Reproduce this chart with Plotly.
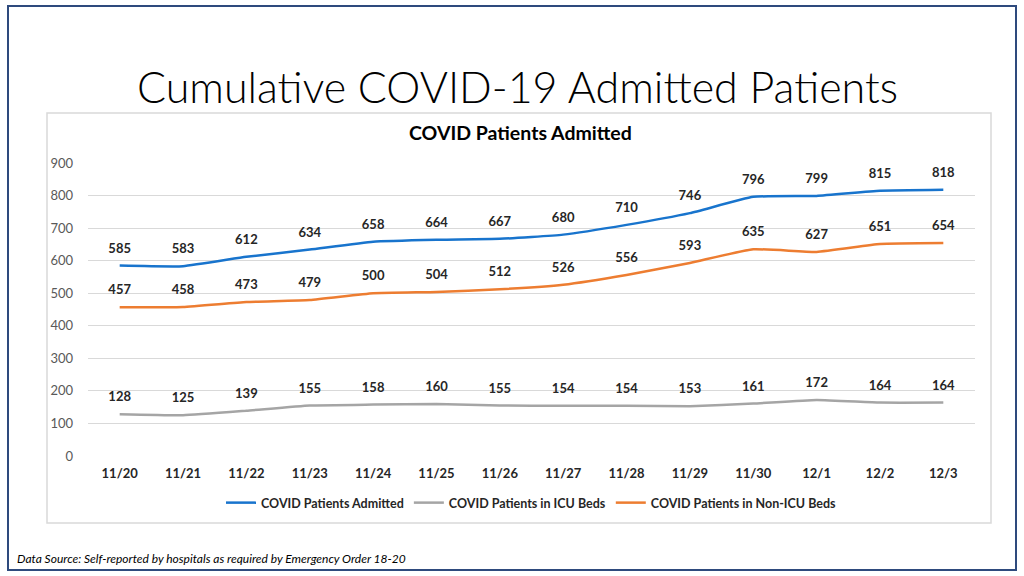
import plotly.graph_objects as go

dates = ["11/20", "11/21", "11/22", "11/23", "11/24", "11/25", "11/26",
         "11/27", "11/28", "11/29", "11/30", "12/1", "12/2", "12/3"]
admitted = [585, 583, 612, 634, 658, 664, 667, 680, 710, 746, 796, 799, 815, 818]
icu = [128, 125, 139, 155, 158, 160, 155, 154, 154, 153, 161, 172, 164, 164]
non_icu = [457, 458, 473, 479, 500, 504, 512, 526, 556, 593, 635, 627, 651, 654]
y_ticks = [0, 100, 200, 300, 400, 500, 600, 700, 800, 900]

W, H = 1024, 576
L, R, T, B = 88, 975, 163, 456  # plot area in pixels


def px(x):
    return (x - L) / (R - L)


def py(y):
    return (B - y) / (B - T)


FONT = "Lato"
fig = go.Figure()
series = [
    ("COVID Patients Admitted", admitted, "#1874CD"),
    ("COVID Patients in ICU Beds", icu, "#A5A5A5"),
    ("COVID Patients in Non-ICU Beds", non_icu, "#ED7D31"),
]
for name, vals, col in series:
    fig.add_trace(go.Scatter(
        x=dates, y=vals, name=name, mode="lines+markers+text",
        line=dict(color=col, width=2.5, shape="spline", smoothing=0.4),
        marker=dict(size=14, color="rgba(0,0,0,0)"),
        text=[str(v) for v in vals], textposition="top center",
        textfont=dict(family=FONT, size=13, color="#262626", weight="bold"),
        cliponaxis=False,
    ))

fig.update_layout(
    width=W, height=H,
    margin=dict(l=L, r=W - R, t=T, b=H - B),
    paper_bgcolor="white", plot_bgcolor="white",
    font=dict(family=FONT, color="#404040"),
    showlegend=True,
    legend=dict(orientation="h", x=0.5, xanchor="center", y=py(503), yanchor="middle",
                font=dict(family=FONT, size=12.5, color="#262626", weight="bold"),
                itemwidth=30, traceorder="normal"),
    xaxis=dict(type="category", range=[-0.5, len(dates) - 0.5], showgrid=False,
               showline=False, ticks="", tickfont=dict(family=FONT, size=13, color="#262626", weight="bold"),
               ticklabelstandoff=8),
    yaxis=dict(range=[0, 900], tickvals=y_ticks, showgrid=True, gridcolor="#D9D9D9",
               gridwidth=1, zeroline=False, showline=False, ticks="",
               tickfont=dict(family=FONT, size=13, color="#595959"), ticklabelstandoff=14),
    shapes=[
        dict(type="rect", xref="paper", yref="paper", x0=px(8), x1=px(1016), y0=py(6), y1=py(570),
             line=dict(color="#2E4A7D", width=2), layer="below"),
        dict(type="rect", xref="paper", yref="paper", x0=px(47), x1=px(991), y0=py(113), y1=py(523),
             line=dict(color="#D9D9D9", width=1.5), layer="below"),
    ],
    annotations=[
        dict(text="Cumulative COVID-19 Admitted Patients", xref="paper", yref="paper",
             x=px(517), y=py(86), xanchor="center", yanchor="middle", showarrow=False,
             font=dict(family=FONT, size=43, color="#000000", weight=300)),
        dict(text="COVID Patients Admitted", xref="paper", yref="paper",
             x=px(520), y=py(132), xanchor="center", yanchor="middle", showarrow=False,
             font=dict(family=FONT, size=19.5, color="#000000", weight="bold")),
        dict(text="<i>Data Source: Self-reported by hospitals as required by Emergency Order 18-20</i>",
             xref="paper", yref="paper", x=px(15), y=py(558), xanchor="left", yanchor="middle",
             showarrow=False, font=dict(family=FONT, size=12, color="#000000")),
    ],
)

fig.write_html("out.html", config={"displayModeBar": False},
               post_script="document.body.style.margin='0';document.body.style.overflow='hidden';")
